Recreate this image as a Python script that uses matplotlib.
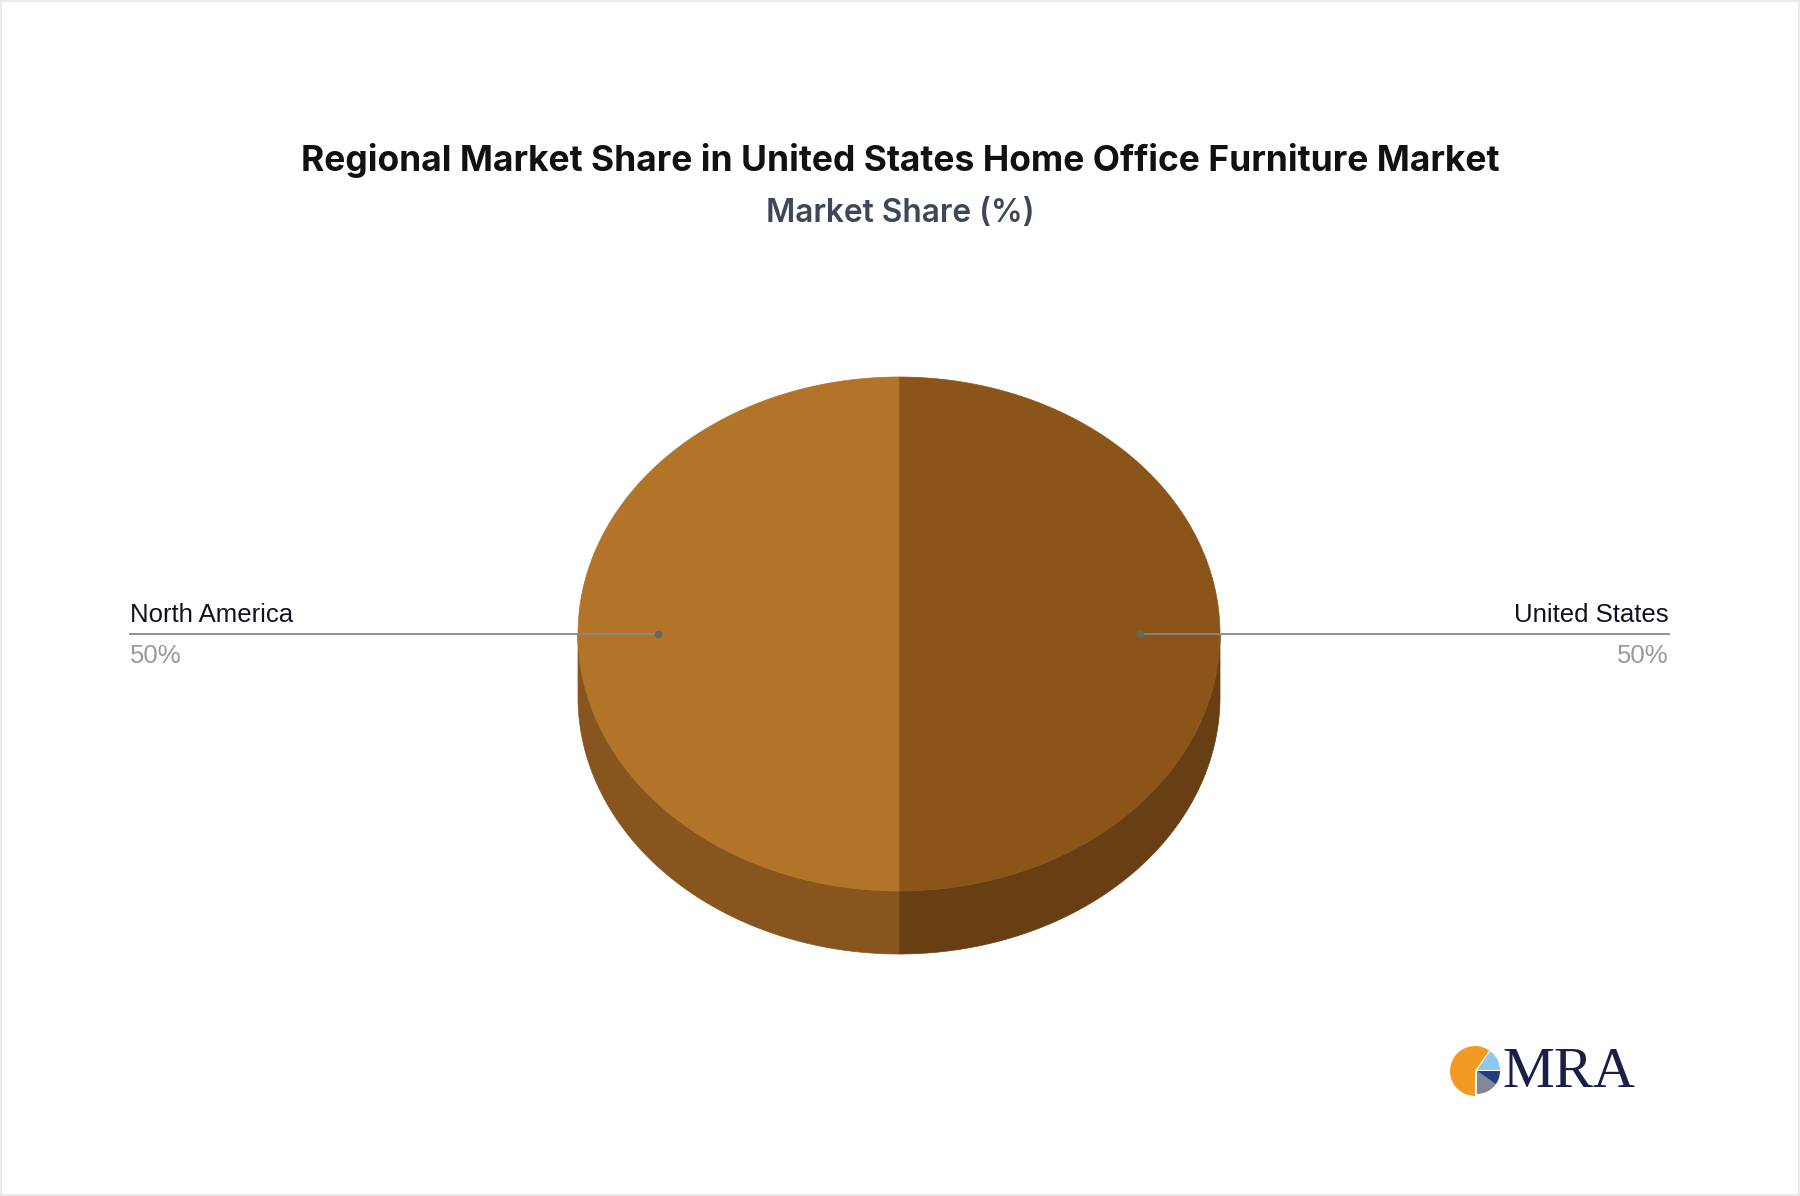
"""Regional market share pie (3D look)"""
import numpy as np
import matplotlib
matplotlib.use('Agg')
import matplotlib.pyplot as plt
from matplotlib.patches import Polygon, Wedge, Rectangle

# data
categories = ['United States', 'North America']
shares = [50, 50]
top_colors = ['#8b5519', '#b27429']
side_colors = ['#673f12', '#87551d']

title = 'Regional Market Share in United States Home Office Furniture Market'
subtitle = 'Market Share (%)'

W, H = 1800, 1196
CX, CY = 899, 634
RX, RY = 321, 257
DEPTH = 63


def ellipse_pts(a0, a1, n=200, dy=0.0):
    # angles in degrees, clockwise from 12 o'clock
    t = np.radians(np.linspace(a0, a1, n))
    return np.column_stack([CX + RX * np.sin(t), CY - RY * np.cos(t) + dy])


def main():
    fig = plt.figure(figsize=(W / 100, H / 100), dpi=100)
    ax = fig.add_axes([0, 0, 1, 1])
    ax.set_xlim(0, W)
    ax.set_ylim(H, 0)
    ax.axis('off')

    ax.add_patch(Rectangle((1, 1), W - 2, H - 2, fill=False, ec='#e6e6e6', lw=1.2))

    total = float(sum(shares))
    angles = np.cumsum([0] + [s / total * 360 for s in shares])

    # side walls (front half only)
    for i in range(len(shares)):
        a0, a1 = max(angles[i], 90), min(angles[i + 1], 270)
        if a1 <= a0:
            continue
        top = ellipse_pts(a0, a1)
        bot = ellipse_pts(a1, a0, dy=DEPTH)
        ax.add_patch(Polygon(np.vstack([top, bot]), closed=True,
                             fc=side_colors[i], ec=side_colors[i], lw=0.5))

    # top faces
    for i in range(len(shares)):
        arc = ellipse_pts(angles[i], angles[i + 1])
        pts = np.vstack([[CX, CY], arc])
        ax.add_patch(Polygon(pts, closed=True, fc=top_colors[i],
                             ec=top_colors[i], lw=0.5))

    # labels with connectors
    for i, name in enumerate(categories):
        mid = np.radians((angles[i] + angles[i + 1]) / 2)
        px = CX + 0.75 * RX * np.sin(mid)
        py = CY - 0.75 * RY * np.cos(mid)
        right = np.sin(mid) > 0
        ex = 1669 if right else 130
        ax.plot([px, ex], [py, py], color='#888888', lw=1.3, zorder=3)
        ax.plot(px, py, 'o', ms=4.5, color='#666666', zorder=4)
        ha = 'right' if right else 'left'
        ax.text(ex, py - 19, name, ha=ha, va='center', fontsize=18.5,
                family='Liberation Sans', color='#111122')
        ax.text(ex, py + 22, '{:.0f}%'.format(shares[i]), ha=ha, va='center',
                fontsize=18.5, family='Liberation Sans', color='#999999')

    ax.text(W / 2, 161, title, ha='center', va='center', fontsize=25.5,
            family='Inter', fontweight='bold', color='#111111')
    ax.text(W / 2, 214, subtitle, ha='center', va='center', fontsize=22.8,
            family='Inter', fontweight='semibold', color='#3d4758')

    # logo (y axis is flipped, so wedge angles are mirrored)
    lx, ly, lr = 1475, 1071, 25
    ax.add_patch(Wedge((lx, ly), lr, -270, -55, fc='#f39a25', ec='none'))
    ax.add_patch(Wedge((lx + 2, ly), lr - 2, 35, 90, fc='#7f8894', ec='none'))
    ax.add_patch(Wedge((lx + 2, ly), lr - 2, 0, 35, fc='#1f3f80', ec='none'))
    ax.add_patch(Wedge((lx + 2, ly - 1), lr - 2, -55, 0, fc='#8fc8ee', ec='none'))
    ax.text(1502, 1073, 'MRA', ha='left', va='center', fontsize=42,
            family='Liberation Serif', color='#1b1f46')

    fig.savefig('out.png', dpi=100)


if __name__ == '__main__':
    main()
